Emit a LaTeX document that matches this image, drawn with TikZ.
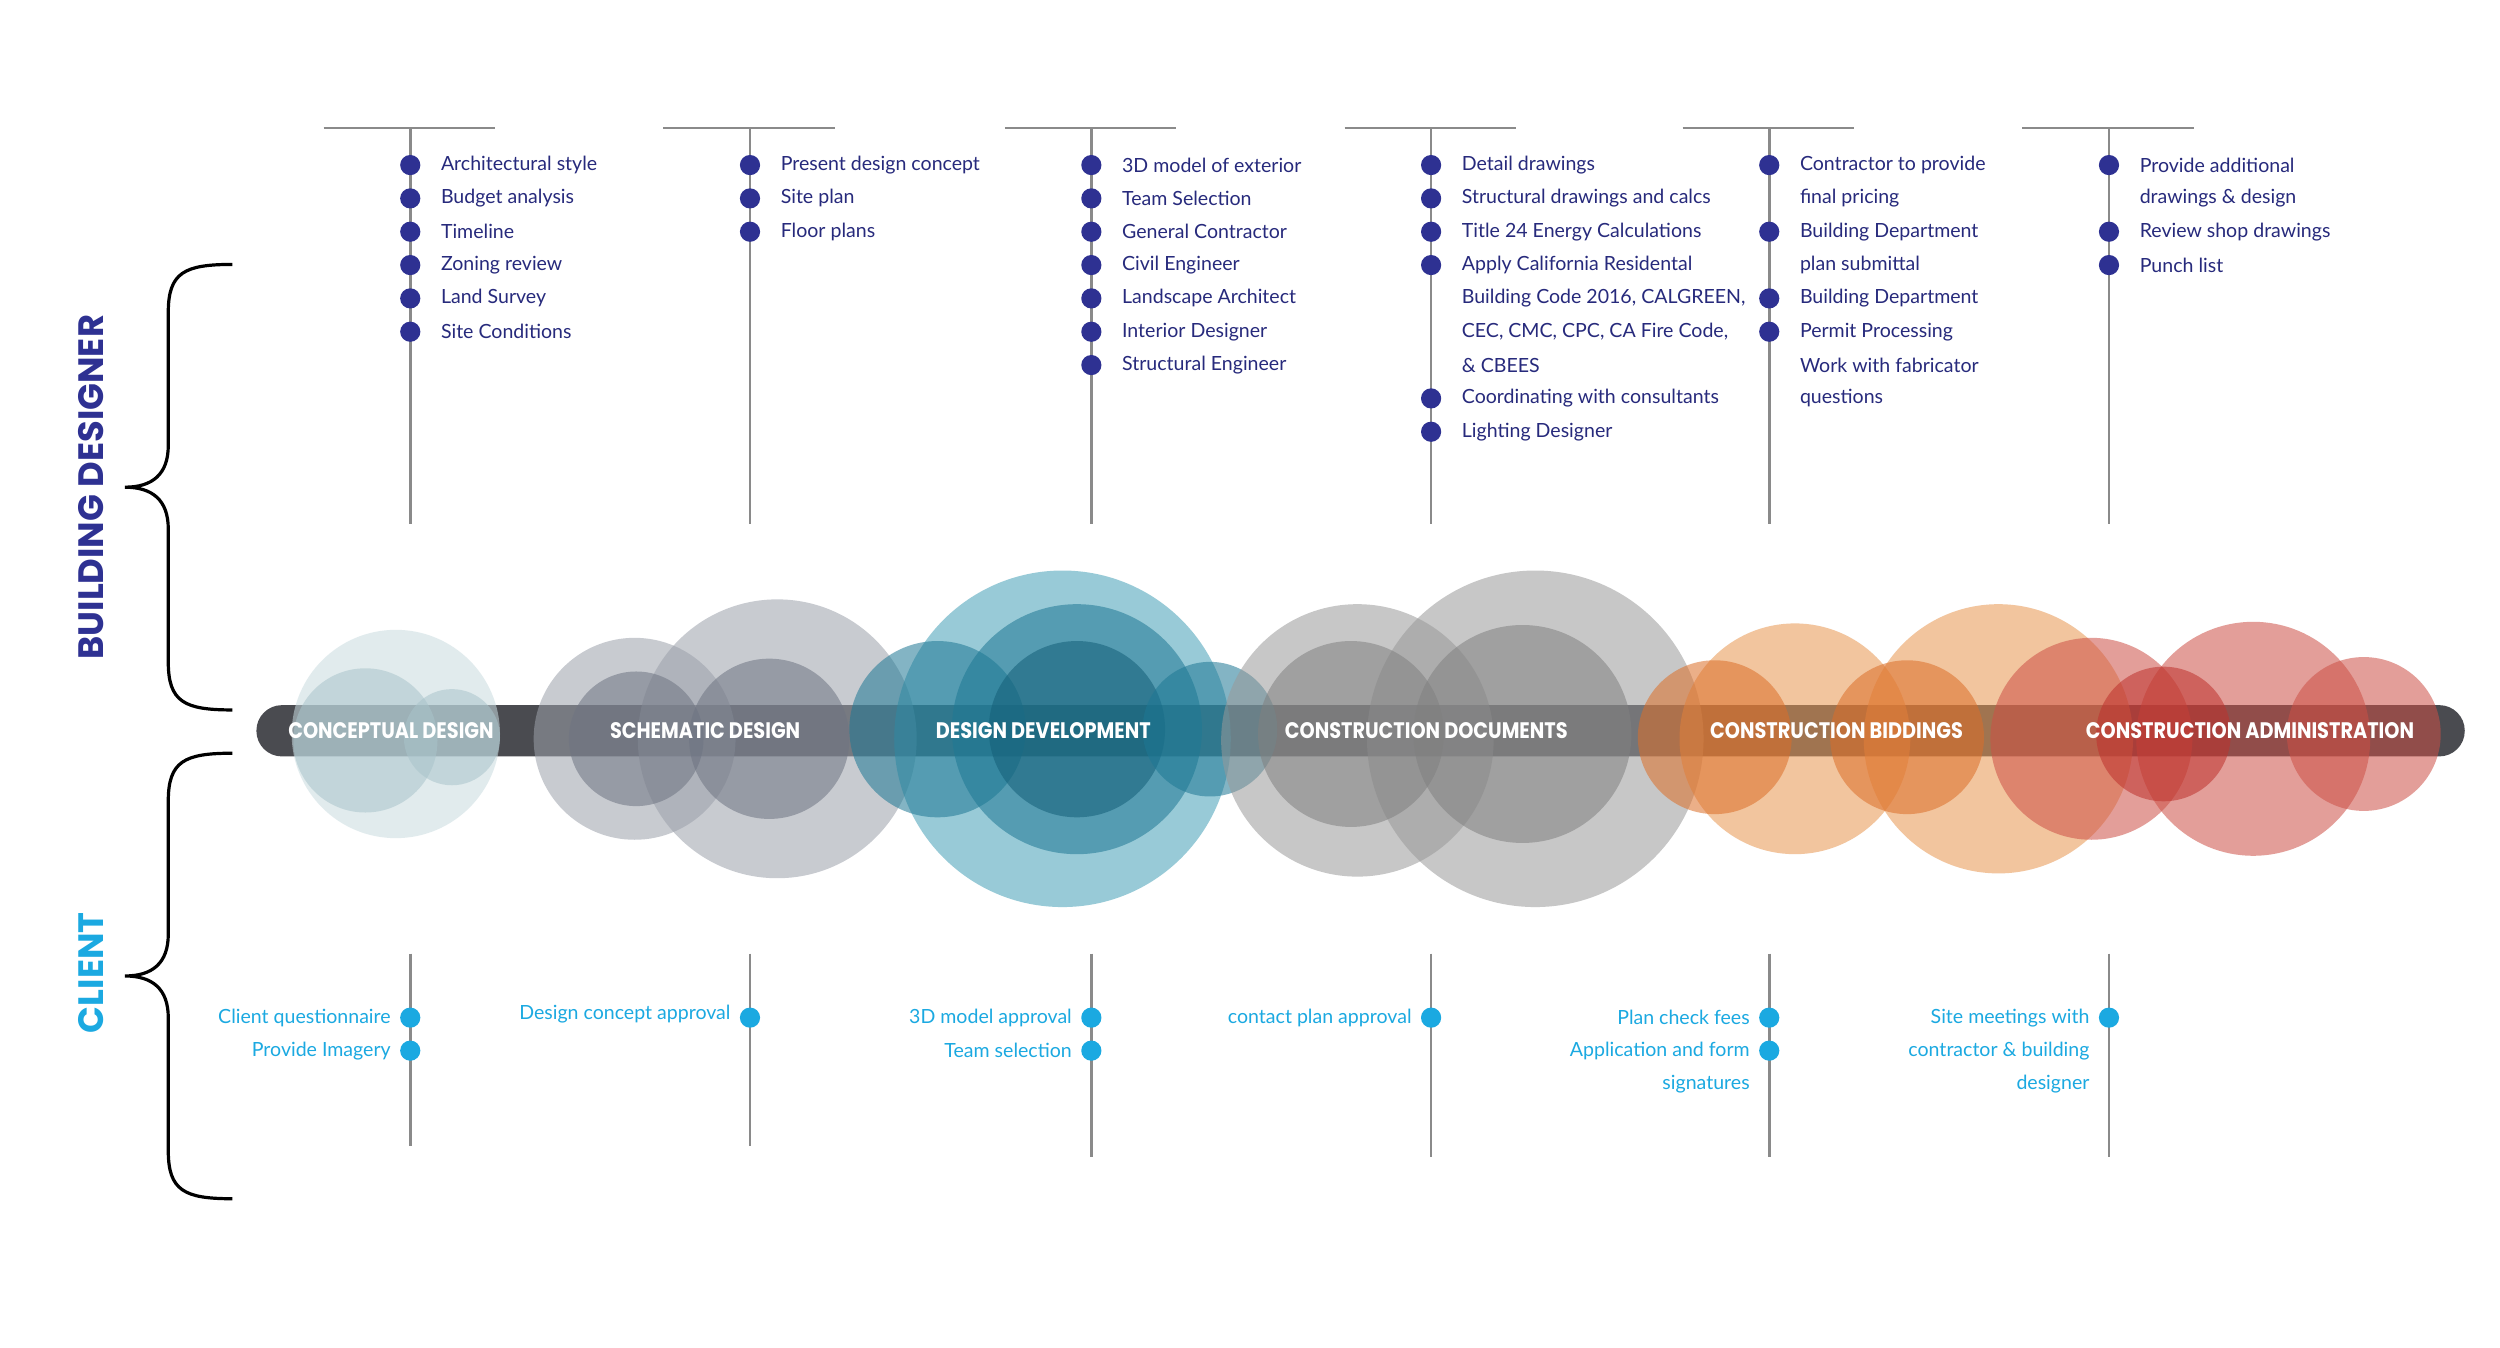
\documentclass[tikz,border=0pt]{standalone}
\usepackage{fontspec}
\setmainfont{Lato}
\newfontfamily\barfont{Poppins}
\definecolor{dblue}{HTML}{2E3192}
\definecolor{lblue}{HTML}{1BA9E1}
\definecolor{lineg}{HTML}{8A8A8A}
\definecolor{barc}{HTML}{4A4B50}
\definecolor{paleA}{HTML}{C9DCE0}
\definecolor{paleB}{HTML}{A9C4CB}
\definecolor{slA}{HTML}{9CA1AB}
\definecolor{slB}{HTML}{6E7482}
\definecolor{tealA}{RGB}{68,160,183}
\definecolor{tealB}{RGB}{30,120,148}
\definecolor{tealC}{RGB}{20,95,120}
\definecolor{orA}{RGB}{232,150,80}
\definecolor{orB}{RGB}{220,110,40}
\definecolor{rdA}{RGB}{205,80,70}
\definecolor{rdB}{RGB}{190,50,45}
\tikzset{
 tl/.style={anchor=west,font=\fontsize{12.2}{14}\selectfont,text=dblue!85!black,inner sep=0pt},
 bl/.style={anchor=east,font=\fontsize{12.2}{14}\selectfont,text=lblue,inner sep=0pt},
 vline/.style={lineg,line width=1.6pt},
 bt/.style={text=white,font=\barfont\bfseries\fontsize{14}{16}\selectfont,xscale=0.86},
 circ/.style={fill=#1,fill opacity=0.55,draw=none},
 brace/.style={line width=2pt,black}
}
\newcommand{\tb}[3]{\fill[dblue] (#1,{103+20.8*#2}) circle (6.3); \node[tl] at ({#1+19},{103+20.8*#2}) {#3};}
\newcommand{\tn}[3]{\node[tl] at ({#1+19},{103+20.8*#2}) {#3};}
\newcommand{\bb}[3]{\fill[lblue] (#1,{635+20.6*#2}) circle (6.3); \node[bl] at ({#1-12},{635+20.6*#2}) {#3};}
\newcommand{\bn}[3]{\node[bl] at ({#1-12},{635+20.6*#2}) {#3};}
\begin{document}
\begin{tikzpicture}[x=1pt,y=-1pt]
\useasboundingbox (0,0) rectangle (1560,841);
\fill[white] (0,0) rectangle (1560,841);
\foreach \x in {256,468,681,893,1104,1316}{
 \draw[vline] (\x-54,80) -- (\x+53,80);
 \draw[vline] (\x,80) -- (\x,327);
}
\foreach \x/\e in {256/715,468/715,681/722,893/722,1104/722,1316/722}{
 \draw[vline] (\x,595) -- (\x,\e);
}
\fill[barc,rounded corners=15.9pt] (160,440) rectangle (1538,472);
\fill[circ=paleA] (247,458) circle (65);
\fill[circ=paleB] (228,462) circle (45);
\fill[circ=paleB] (282,460) circle (30);
\fill[circ=slA] (396,461) circle (63);
\fill[circ=slA] (485,461) circle (87);
\fill[circ=slB] (397,461) circle (42);
\fill[circ=slB] (480,461) circle (50);
\fill[circ=tealA] (663,461) circle (105);
\fill[circ=tealB] (585,455) circle (55);
\fill[circ=tealB] (672,455) circle (78);
\fill[circ=tealC] (672,455) circle (55);
\fill[circ=tealB] (755,455) circle (42);
\fill[circ=gray!80] (847,462) circle (85);
\fill[circ=gray!80] (958,461) circle (105);
\fill[circ=gray] (843,458) circle (58);
\fill[circ=gray] (950,458) circle (68);
\fill[circ=orA] (1120,461) circle (72);
\fill[circ=orA] (1247,461) circle (84);
\fill[circ=orB] (1070,460) circle (48);
\fill[circ=orB] (1190,460) circle (48);
\fill[circ=rdA] (1305,461) circle (63);
\fill[circ=rdA] (1406,461) circle (73);
\fill[circ=rdB] (1350,458) circle (42);
\fill[circ=rdA] (1475,458) circle (48);
\node[bt] (s1) at (244,456) {CONCEPTUAL DESIGN};
\node[bt] (s2) at (440,456) {SCHEMATIC DESIGN};
\node[bt] (s3) at (651,456) {DESIGN DEVELOPMENT};
\node[bt] (s4) at (890,456) {CONSTRUCTION DOCUMENTS};
\node[bt] (s5) at (1146,456) {CONSTRUCTION BIDDINGS};
\node[bt] (s6) at (1404,456) {CONSTRUCTION ADMINISTRATION};
\tb{256}{0}{Architectural style}\tb{256}{1}{Budget analysis}\tb{256}{2}{Timeline}
\tb{256}{3}{Zoning review}\tb{256}{4}{Land Survey}\tb{256}{5}{Site Conditions}
\tb{468}{0}{Present design concept}\tb{468}{1}{Site plan}\tb{468}{2}{Floor plans}
\tb{681}{0}{3D model of exterior}\tb{681}{1}{Team Selection}\tb{681}{2}{General Contractor}
\tb{681}{3}{Civil Engineer}\tb{681}{4}{Landscape Architect}\tb{681}{5}{Interior Designer}\tb{681}{6}{Structural Engineer}
\tb{893}{0}{Detail drawings}\tb{893}{1}{Structural drawings and calcs}\tb{893}{2}{Title 24 Energy Calculations}
\tb{893}{3}{Apply California Residental}\tn{893}{4}{Building Code 2016, CALGREEN,}\tn{893}{5}{CEC, CMC, CPC, CA Fire Code,}
\tn{893}{6}{\& CBEES}\tb{893}{7}{Coordinating with consultants}\tb{893}{8}{Lighting Designer}
\tb{1104}{0}{Contractor to provide}\tn{1104}{1}{final pricing}\tb{1104}{2}{Building Department}
\tn{1104}{3}{plan submittal}\tb{1104}{4}{Building Department}\tb{1104}{5}{Permit Processing}
\tn{1104}{6}{Work with fabricator}\tn{1104}{7}{questions}
\tb{1316}{0}{Provide additional}\tn{1316}{1}{drawings \& design}\tb{1316}{2}{Review shop drawings}\tb{1316}{3}{Punch list}
\bb{256}{0}{Client questionnaire}\bb{256}{1}{Provide Imagery}
\fill[lblue] (468,635) circle (6.3); \node[bl] at (456,633) {Design concept approval};
\bb{681}{0}{3D model approval}\bb{681}{1}{Team selection}
\bb{893}{0}{contact plan approval}
\bb{1104}{0}{Plan check fees}\bb{1104}{1}{Application and form}\bn{1104}{2}{signatures}
\bb{1316}{0}{Site meetings with}\bn{1316}{1}{contractor \& building}\bn{1316}{2}{designer}
\draw[brace] (145,165) .. controls (115,165) and (105,170) .. (105,195) -- (105,278)
 .. controls (105,296) and (95,304) .. (78,304) .. controls (95,304) and (105,312) .. (105,330)
 -- (105,413) .. controls (105,438) and (115,443) .. (145,443);
\draw[brace] (145,470) .. controls (115,470) and (105,475) .. (105,500) -- (105,583)
 .. controls (105,601) and (95,609) .. (78,609) .. controls (95,609) and (105,617) .. (105,635)
 -- (105,718) .. controls (105,743) and (115,748) .. (145,748);
\node[rotate=90,text=dblue,font=\barfont\bfseries\fontsize{22}{24}\selectfont] (bd) at (57,304) {BUILDING DESIGNER};
\node[rotate=90,text=lblue,font=\barfont\bfseries\fontsize{22}{24}\selectfont] (cl) at (57,607) {CLIENT};
\end{tikzpicture}
\end{document}
